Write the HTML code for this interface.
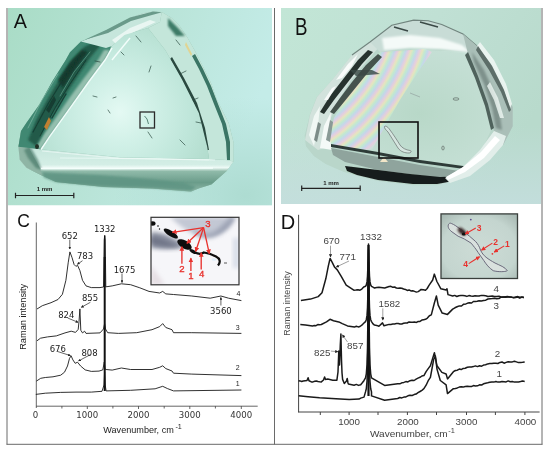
<!DOCTYPE html>
<html><head><meta charset="utf-8">
<style>
html,body{margin:0;padding:0;background:#fff;}
body{width:550px;height:457px;overflow:hidden;position:relative;}
svg{position:absolute;left:0;top:0;display:block;}
svg{font-family:"Liberation Sans",sans-serif;}
</style></head>
<body>
<svg width="550" height="457" viewBox="0 0 550 457">
<defs>
<marker id="ah" viewBox="0 0 6 6" refX="5" refY="3" markerWidth="4" markerHeight="4" orient="auto"><path d="M0,0 L6,3 L0,6 z" fill="#222"/></marker>
<marker id="ahr" viewBox="0 0 6 6" refX="5" refY="3" markerWidth="4.5" markerHeight="4.5" orient="auto"><path d="M0,0 L6,3 L0,6 z" fill="#e8322e"/></marker>
</defs>

<!-- PHOTOS placeholder -->
<g id="photoA">
<defs>
<clipPath id="clipA"><rect x="8" y="8" width="264" height="197.5"/></clipPath>
<linearGradient id="bgA" x1="0" y1="0" x2="1" y2="0.3">
<stop offset="0" stop-color="#a9dcc6"/>
<stop offset="0.55" stop-color="#b9e4d8"/>
<stop offset="1" stop-color="#c4ece8"/>
</linearGradient>
<radialGradient id="bgA2" cx="0.9" cy="0.95" r="0.5">
<stop offset="0" stop-color="#a8d8cc" stop-opacity="0.8"/>
<stop offset="1" stop-color="#a8d8cc" stop-opacity="0"/>
</radialGradient>
<radialGradient id="tableA" cx="120" cy="112" r="100" gradientUnits="userSpaceOnUse">
<stop offset="0" stop-color="#e4f9f3"/>
<stop offset="0.3" stop-color="#d2f1e8"/>
<stop offset="0.7" stop-color="#bfe6da"/>
<stop offset="1" stop-color="#b2dccd"/>
</radialGradient>
<linearGradient id="botA" x1="0" y1="0" x2="0" y2="1">
<stop offset="0" stop-color="#c6e6dc"/>
<stop offset="0.4" stop-color="#d4eee6"/>
<stop offset="0.47" stop-color="#eefaf6"/>
<stop offset="0.55" stop-color="#8fbaa9"/>
<stop offset="0.8" stop-color="#6a9c8a"/>
<stop offset="1" stop-color="#8fb8a8"/>
</linearGradient>
<filter id="blurA1" x="-10%" y="-10%" width="120%" height="120%"><feGaussianBlur stdDeviation="1.3"/></filter>
<filter id="blurA2" x="-10%" y="-10%" width="120%" height="120%"><feGaussianBlur stdDeviation="0.6"/></filter>
<filter id="blurA3" x="-20%" y="-20%" width="140%" height="140%"><feGaussianBlur stdDeviation="2.5"/></filter>
</defs>
<g clip-path="url(#clipA)">
<rect x="8" y="8" width="264" height="197.5" fill="url(#bgA)"/>
<rect x="8" y="8" width="264" height="197.5" fill="url(#bgA2)"/>
<g filter="url(#blurA2)">
<!-- outline base -->
<path d="M18.4,146.7 L21,131 L26.3,123 L39.4,104.6 L52.5,81 L65.7,60 L70,52.3 L80.9,41.4 L93.6,36.8 L106.4,30.5 L119,23.2 L130,17.7 L142.7,13.2 L153.6,11.4 L161.8,12 L171.7,17.9 L179.5,25.8 L187.4,37.6 L195.3,51.4 L203.2,67.1 L211,82.9 L217,100 L228.8,123.2 L233.6,142.4 L233.6,161.6 L226.4,171.2 L211.4,184.5 L200,188 L191,191.5 L152,188.5 L104,187 L56,182 L42,175.5 L26.3,167.7 L19.7,159.8 Z" fill="#8cbcaa"/>
<!-- bottom band -->
<path d="M18.4,146.7 L40.7,149.3 L120,157.2 L209,159 L226,160 L233.6,161.6 L226.4,171.2 L211.4,184.5 L200,188 L191,191.5 L152,188.5 L104,187 L56,182 L42,175.5 L26.3,167.7 L19.7,159.8 Z" fill="url(#botA)"/>
<!-- bottom-left corner facet -->
<path d="M18.4,146.7 L21,131 L26,128 L30,150 L40,168 L42,175.5 L26.3,167.7 L19.7,159.8 Z" fill="#8fb5a5"/>
<path d="M42,172 L70,173.5 L100,175 L150,179 L185,183 L196,187 L191,191 L152,188 L104,186.5 L56,182 L44,177.5 Z" fill="#5f9483" opacity="0.85" filter="url(#blurA1)"/>
<path d="M24,150 L30,146 L38,160 L42,170 L36,168 L28,158 Z" fill="#4a7a6a" opacity="0.7" filter="url(#blurA1)"/>
<!-- left band -->
<path d="M18.4,146.7 L21,131 L26.3,123 L39.4,104.6 L52.5,81 L65.7,60 L70,52.3 L80.9,41.4 L93.6,36.8 L106.4,30.5 L112,40 L110,50 L105,60 L89.3,81 L76.2,99.4 L63,117.8 L49.9,136.2 L40.7,149.3 L30,148 Z" fill="#3f8872"/>
<path d="M40.7,149.3 L49.9,136.2 L63,117.8 L76.2,99.4 L89.3,81 L105,60 L110,50 L104,50 L98,60 L84,78 L70,97 L57,116 L44,134 L36,147 Z" fill="#94bfae" filter="url(#blurA1)"/>
<path d="M28,140 L36,120 L48,98 L60,78 L72,60 L84,47 L98,40 L100,46 L90,58 L78,76 L66,94 L54,113 L44,131 L36,146 Z" fill="#235a48" filter="url(#blurA1)"/>
<path d="M58,80 L70,62 L82,50 L88,52 L76,68 L63,88 Z" fill="#123a2e" filter="url(#blurA1)"/>
<path d="M46,110 L54,96 L56,100 L49,113 Z" fill="#163c30" filter="url(#blurA2)"/>
<g stroke-linecap="round" fill="none" filter="url(#blurA2)">
<path d="M33,132 L48,104 L64,78 L80,56" stroke="#123a2e" stroke-width="1.2" opacity="0.8"/>
<path d="M40,136 L55,108 L70,84 L86,60" stroke="#0e3026" stroke-width="1" opacity="0.7"/>
<path d="M28,128 L42,100 L58,74" stroke="#7fb5a2" stroke-width="0.9" opacity="0.8"/>
<path d="M60,96 L74,72 L90,52" stroke="#6aa592" stroke-width="0.8" opacity="0.8"/>
<path d="M52,118 L66,94" stroke="#10322a" stroke-width="1.4" opacity="0.8"/>
</g>
<path d="M44,127 L49,117 L51,121 L47,130 Z" fill="#c08030"/>
<ellipse cx="37" cy="146.5" rx="2" ry="2.5" fill="#203028"/>
<!-- top band -->
<path d="M80.9,41.4 L93.6,36.8 L106.4,30.5 L119,23.2 L130,17.7 L142.7,13.2 L153.6,11.4 L161.8,12 L160,22 L148,28 L124.5,35 L112,46 L106,48 Z" fill="#c6e6dc"/>
<path d="M84,40 L106,30 L130,17.5 L153,11.6 L162,12.2 L152,15 L131,21 L108,33 Z" fill="#6a9a8a" filter="url(#blurA2)"/>
<path d="M112,40 L130,28 L150,20 L156,22 L134,32 L116,44 Z" fill="#f2fbf8" opacity="0.8" filter="url(#blurA2)"/>
<!-- right band -->
<path d="M161.8,12 L171.7,17.9 L179.5,25.8 L187.4,37.6 L195.3,51.4 L203.2,67.1 L211,82.9 L217,100 L228.8,123.2 L233.6,142.4 L233.6,161.6 L226,160 L209,159 L207.2,146.7 L198.8,113 L182,79.4 L165.2,50 L148,28 L160,22 Z" fill="#c4e6da"/>
<path d="M168,18 L178,28 L185,36 L176,36 L168,26 Z" fill="#3c7a66" filter="url(#blurA1)"/>
<path d="M195,54 L203,69 L211,86 L218,104 L226,124 L230,142 L230,160 L227,160 L226,142 L222,124 L214,104 L207,86 L199,69 L192,56 Z" fill="#3a7565" filter="url(#blurA2)"/>
<path d="M172,57 L184,78 L197,103 L205,128 L209,150 L206,150 L202,128 L194,104 L181,79 L170,59 Z" fill="#2c4a40" filter="url(#blurA2)"/>
<path d="M186,42 L192,54 L191,56 L185,45 Z" fill="#e8d080" opacity="0.8"/>
<!-- table -->
<path d="M112,46 L124.5,35 L148,28 L165.2,50 L182,79.4 L198.8,113 L207.2,146.7 L209,159 L120,157.2 L40.7,149.3 L49.9,136.2 L63,117.8 L76.2,99.4 L89.3,81 L105,60 Z" fill="url(#tableA)"/>
</g>
<!-- bright edge highlights -->
<g stroke="#f6fffd" stroke-width="1.4" fill="none" opacity="0.95" filter="url(#blurA2)">
<path d="M41,149.5 L49.9,136.2 L63,117.8 L76.2,99.4 L89.3,81 L105,60 L112,48"/>
<path d="M41,168.5 L120,168.6 L213,168"/>
<path d="M60,158 L140,158.5 L215,160" stroke-width="0.9" opacity="0.7"/>
<path d="M112,60 L130,38"/>
</g>
<g stroke="#eefaf6" stroke-width="0.9" fill="none" opacity="0.8">
<path d="M42,151 L120,158.5 L209,160"/>
</g>
<!-- inclusions -->
<g stroke="#2a4a40" stroke-width="0.9" stroke-linecap="round" opacity="0.75">
<line x1="121" y1="52" x2="124" y2="55"/>
<line x1="151" y1="66" x2="149" y2="72"/>
<line x1="93" y1="96" x2="97" y2="97"/>
<line x1="113" y1="98" x2="116" y2="97"/>
<line x1="108" y1="110" x2="110" y2="113"/>
<line x1="180" y1="74" x2="186" y2="71"/>
<line x1="193" y1="100" x2="198" y2="98"/>
<line x1="196" y1="122" x2="201" y2="123"/>
<line x1="148" y1="132" x2="152" y2="138"/>
<line x1="180" y1="140" x2="185" y2="145"/>
<line x1="136" y1="36" x2="141" y2="42"/>
<line x1="176" y1="40" x2="180" y2="45"/>
<line x1="95" y1="61" x2="100" y2="62"/>
</g>
<!-- box -->
<rect x="140" y="112" width="14.5" height="16" fill="none" stroke="#2a2a2a" stroke-width="1.3"/>
<path d="M144.5,116 L147,119 L148.5,124" stroke="#3a6a5a" stroke-width="0.8" fill="none"/>
<!-- scale bar -->
<g stroke="#222" stroke-width="1.2">
<line x1="15.5" y1="195.5" x2="73.8" y2="195.5"/>
<line x1="15.5" y1="192.8" x2="15.5" y2="198.2"/>
<line x1="73.8" y1="192.8" x2="73.8" y2="198.2"/>
</g>
<text x="44.5" y="191.2" font-size="6" font-weight="bold" fill="#222" text-anchor="middle">1 mm</text>
<text x="20.4" y="27.9" font-size="19.8" fill="#111" text-anchor="middle">A</text>
</g>
</g>

<g id="photoB">
<defs>
<clipPath id="clipB"><rect x="281" y="8" width="260" height="196"/></clipPath>
<linearGradient id="bgB" x1="0" y1="0" x2="1" y2="0.5">
<stop offset="0" stop-color="#c2e6d6"/>
<stop offset="0.5" stop-color="#c0e0d4"/>
<stop offset="1" stop-color="#b8dacc"/>
</linearGradient>
<linearGradient id="bgB2" x1="0" y1="0" x2="0" y2="1">
<stop offset="0.6" stop-color="#c4dedd" stop-opacity="0"/>
<stop offset="1" stop-color="#c4dedd" stop-opacity="0.9"/>
</linearGradient>
<radialGradient id="tableB" cx="0.55" cy="0.55" r="0.6">
<stop offset="0" stop-color="#b8d8c8"/>
<stop offset="1" stop-color="#c6e0d6"/>
</radialGradient>
<radialGradient id="rainbowB" cx="226" cy="-12.5" r="220" gradientUnits="userSpaceOnUse">
<stop offset="0.74" stop-color="#e6f0ec" stop-opacity="0"/>
<stop offset="0.7364" stop-color="#f0c8e2" stop-opacity="0.75"/>
<stop offset="0.7482" stop-color="#f2e6b8" stop-opacity="0.75"/>
<stop offset="0.7600" stop-color="#c0ecd0" stop-opacity="0.75"/>
<stop offset="0.7718" stop-color="#c4d4f2" stop-opacity="0.75"/>
<stop offset="0.7836" stop-color="#f0c8e2" stop-opacity="0.75"/>
<stop offset="0.7955" stop-color="#f2e6b8" stop-opacity="0.75"/>
<stop offset="0.8073" stop-color="#c0ecd0" stop-opacity="0.75"/>
<stop offset="0.8191" stop-color="#c4d4f2" stop-opacity="0.75"/>
<stop offset="0.8309" stop-color="#f0c8e2" stop-opacity="0.75"/>
<stop offset="0.8427" stop-color="#f2e6b8" stop-opacity="0.75"/>
<stop offset="0.8545" stop-color="#c0ecd0" stop-opacity="0.75"/>
<stop offset="0.8664" stop-color="#c4d4f2" stop-opacity="0.75"/>
<stop offset="0.8782" stop-color="#f0c8e2" stop-opacity="0.75"/>
<stop offset="0.8900" stop-color="#f2e6b8" stop-opacity="0.75"/>
<stop offset="0.9018" stop-color="#c0ecd0" stop-opacity="0.75"/>
<stop offset="0.9136" stop-color="#c4d4f2" stop-opacity="0.75"/>
<stop offset="0.9255" stop-color="#f0c8e2" stop-opacity="0.75"/>
<stop offset="0.9373" stop-color="#f2e6b8" stop-opacity="0.75"/>
<stop offset="0.9491" stop-color="#c0ecd0" stop-opacity="0.75"/>
<stop offset="0.9609" stop-color="#c4d4f2" stop-opacity="0.75"/>
<stop offset="0.9727" stop-color="#f0c8e2" stop-opacity="0.75"/>
<stop offset="0.995" stop-color="#e6f0ec" stop-opacity="0"/>
</radialGradient>
<clipPath id="rainClip"><path d="M328,146 L334,118 L348,94 L366,68 L380,52 L425,49 L432,52 L418,72 L400,100 L384,128 L372,150 Z"/></clipPath>
<filter id="blurB1" x="-10%" y="-10%" width="120%" height="120%"><feGaussianBlur stdDeviation="1.2"/></filter>
<filter id="blurB2" x="-10%" y="-10%" width="120%" height="120%"><feGaussianBlur stdDeviation="0.6"/></filter>
<filter id="blurB3" x="-20%" y="-20%" width="140%" height="140%"><feGaussianBlur stdDeviation="3"/></filter>
</defs>
<g clip-path="url(#clipB)">
<rect x="281" y="8" width="260" height="196" fill="url(#bgB)"/>
<rect x="281" y="8" width="260" height="196" fill="url(#bgB2)"/>
<g filter="url(#blurB2)">
<!-- outer body -->
<path d="M304.6,135.7 L309.8,114.7 L316.7,97 L333,78.9 L351.9,55.3 L370,41.8 L391.8,25.2 L413.6,20.1 L428.2,20.8 L441.8,24.5 L463,34 L479.6,48.2 L493.8,67.1 L505.6,88.4 L512.7,107.3 L512.7,126.2 L503.2,145.1 L484.3,164 L460.7,178.2 L437,185.3 L413.4,185.3 L378,181 L357.1,175.8 L343.3,171.8 L325.6,164 L313.8,156.1 L305.9,146.2 Z" fill="#b9d6ca"/>
<!-- table -->
<path d="M330,144 L334,118 L348,96 L364,74 L378,54 L420,50 L468,52 L478,78 L488,106 L492,128 L482,150 L470,166 L440,163 L400,156 L378,153 L350,148 Z" fill="url(#tableB)"/>
</g>
<!-- rainbow -->
<g clip-path="url(#rainClip)"><rect x="320" y="30" width="140" height="130" fill="url(#rainbowB)" filter="url(#blurB2)"/></g>
<g filter="url(#blurB2)">
<!-- left band: light base -->
<path d="M305,140 L310,115 L317,97 L333,79 L352,55 L370,42 L380,46 L366,62 L350,82 L336,104 L328,126 L330,146 L318,150 Z" fill="#d2e2dc"/>
<!-- white/gray streaks in left corner -->
<path d="M309,135 L314,116 L320,106 L318,126 L314,146 Z" fill="#f0f7f4"/>
<path d="M320,148 L324,126 L331,112 L329,134 L332,150 Z" fill="#f4f9f7"/>
<path d="M314,140 L318,122 L321,124 L317,142 Z" fill="#7c8c88"/>
<path d="M326,140 L330,120 L333,122 L330,142 Z" fill="#8a9a96"/>
<!-- dark streaks -->
<path d="M320,112 L330,96 L344,78 L358,60 L368,50 L373,52 L362,64 L348,82 L334,100 L324,114 Z" fill="#26332f"/>
<path d="M330,112 L340,98 L352,82 L366,65 L378,54 L382,57 L370,70 L357,86 L344,102 L334,114 Z" fill="#45524e"/>
<path d="M336,80 L348,64 L358,54 L352,66 L342,78 Z" fill="#ffffff" opacity="0.85"/>
<path d="M324,100 L332,88 L336,86 L328,100 Z" fill="#ffffff" opacity="0.8"/>
<path d="M350,70 L372,70 L380,74 L356,76 Z" fill="#3a4844" opacity="0.8"/>
<!-- top band -->
<path d="M370,42 L391.8,25.2 L413.6,20.1 L428.2,20.8 L441.8,24.5 L463,34 L475,46 L470,53 L440,48 L410,47 L380,52 Z" fill="#c8dcd6"/>
<path d="M382,38 L410,35 L440,38 L462,45 L470,52 L440,49 L410,48 L384,50 Z" fill="#f4faf8" filter="url(#blurB1)"/>
<path d="M352,55 L370,42 L391.8,25.2 L413.6,20.1 L428.2,20.8 L441.8,24.5 L463,34 L479.6,48.2" stroke="#5d6e69" stroke-width="1.1" fill="none" opacity="0.8"/>
<path d="M394,27 L408,31 M420,22 L438,27" stroke="#3a4a46" stroke-width="1.6" fill="none"/>
<!-- right band -->
<path d="M463,34 L479.6,48.2 L493.8,67.1 L505.6,88.4 L512.7,107.3 L512.7,126.2 L503.2,145.1 L494,131 L488,105 L478,76 L468,54 Z" fill="#aabfb8"/>
<path d="M472,52 L484,70 L494,92 L500,115 L502,130 L496,128 L492,108 L484,84 L474,62 Z" fill="#7e918b" filter="url(#blurB1)"/>
<path d="M480,42 L494,60 L506,84 L512,104 L510,108 L503,88 L491,64 L477,46 Z" fill="#eef6f3" opacity="0.9"/>
<path d="M468,52 L478,76 L488,104 L494,128 L491,130 L485,106 L475,78 L465,55 Z" fill="#4f625c"/>
<path d="M478,46 L492,66 L504,90 L511,110 L509,112 L501,92 L489,70 L476,50 Z" fill="#5d6e69"/>
<path d="M490,82 L498,98 L504,118 L500,118 L494,100 L487,86 Z" fill="#eef6f3" opacity="0.8"/>
<!-- bottom band -->
<path d="M331,144 L378,152 L420,160 L470,167 L472,170 L420,163 L378,155 L331,147 Z" fill="#2e3a37"/>
<path d="M331,148 L378,157 L420,165 L466,172 L440,178 L378,170 L345,162 L333,155 Z" fill="#8fa49d"/>
<path d="M345,166 L378,170 L410,174 L440,177 L466,176 L448,182 L437,184 L413,184 L378,180 L357,175 L347,171 Z" fill="#161b1a"/>
<path d="M380,162 L384,157 L388,162 Z" fill="#f2e6c8"/>
<!-- bottom right highlight -->
<path d="M506,136 L494,131 L480,150 L462,168 L445,178 L450,183 L470,176 L490,160 L503,145 Z" fill="#e2eeea"/>
<path d="M500,140 L484,158 L465,172 L448,180 L446,177 L463,167 L481,152 L495,136 Z" fill="#ffffff"/>
</g>
<!-- inclusions -->
<g stroke="#6a7670" stroke-width="0.8" fill="none">
<ellipse cx="456" cy="99" rx="3" ry="1.2"/>
<ellipse cx="443" cy="148" rx="1.2" ry="2"/>
<path d="M410,93 L420,97" stroke="#98aaa4"/>
</g>
<!-- box -->
<rect x="379" y="122" width="39" height="36" fill="none" stroke="#111" stroke-width="1.6"/>
<path d="M384.5,126.5 C386,125.5 388,127 390,130 C393,134 397,140 400,145 C402,148 406,150 410,150.5 C412,151 411,153 409,153 C405,153 401,152 398,148 C395,143 391,137 388,132 C386,130 384,128 384.5,126.5 Z" fill="#d6e6e0" stroke="#6a7070" stroke-width="0.7"/>
<!-- scale bar -->
<g stroke="#222" stroke-width="1.2">
<line x1="301.7" y1="188.3" x2="360.2" y2="188.3"/>
<line x1="301.7" y1="185.6" x2="301.7" y2="191"/>
<line x1="360.2" y1="185.6" x2="360.2" y2="191"/>
</g>
<text x="331" y="184.8" font-size="6" font-weight="bold" fill="#222" text-anchor="middle">1 mm</text>
<text x="301.3" y="34.9" font-size="23" fill="#111" text-anchor="middle" textLength="12.5" lengthAdjust="spacingAndGlyphs">B</text>
</g>
</g>


<!-- frame -->
<g stroke="#6a6a6a" stroke-width="1" fill="none">
<line x1="7" y1="8" x2="7" y2="444.5"/>
<line x1="274.5" y1="8" x2="274.5" y2="444.5"/>
<line x1="542" y1="8" x2="542" y2="444.5"/>
<line x1="6.5" y1="444.3" x2="542.5" y2="444.3"/>
</g>

<!-- ============ GRAPH C ============ -->
<g id="graphC">
<text x="23.5" y="227.2" font-size="17.5" fill="#111" text-anchor="middle">C</text>
<g stroke="#555" stroke-width="0.9" fill="none">
<line x1="36.3" y1="222.5" x2="36.3" y2="408"/>
<line x1="36" y1="406.2" x2="257.7" y2="406.2"/>
<line x1="61.9" y1="406" x2="61.9" y2="408.5"/>
<line x1="87.3" y1="406" x2="87.3" y2="409"/>
<line x1="112.9" y1="406" x2="112.9" y2="408.5"/>
<line x1="138.5" y1="406" x2="138.5" y2="409"/>
<line x1="164.2" y1="406" x2="164.2" y2="408.5"/>
<line x1="189.8" y1="406" x2="189.8" y2="409"/>
<line x1="215.4" y1="406" x2="215.4" y2="408.5"/>
<line x1="241.3" y1="406" x2="241.3" y2="409"/>
</g>
<g font-size="8.6" fill="#333" text-anchor="middle" style="font-family:'DejaVu Sans',sans-serif">
<text x="35.6" y="417.8">0</text>
<text x="87.3" y="417.8">1000</text>
<text x="138.5" y="417.8">2000</text>
<text x="189.8" y="417.8">3000</text>
<text x="241.3" y="417.8">4000</text>
</g>
<text x="103.3" y="433.1" font-size="9.6" fill="#222" textLength="70.5" lengthAdjust="spacingAndGlyphs">Wavenumber, cm</text><text x="175.4" y="429.2" font-size="7" fill="#222" textLength="6.4" lengthAdjust="spacingAndGlyphs">-1</text>
<text transform="translate(25.6,349.8) rotate(-90)" font-size="9.2" fill="#222" textLength="66" lengthAdjust="spacingAndGlyphs">Raman intensity</text>

<g stroke="#1a1a1a" stroke-width="0.9" fill="none" stroke-linejoin="round">
<path d="M37,309 L42.3,305.7 L51,302.7 L58,299.5 L62.4,294.3 L65.9,280.3 L68.2,262.8 L69.9,251.9 L72,257.5 L74.1,264.5 L75.9,266.3 L77.6,265.4 L79.9,270.6 L82.5,280.3 L86,285.9 L91.3,287.6 L100,287.6 L103.5,287 L104.2,240 L104.7,235.5 L105.2,240 L105.8,287 L106.1,286.8 L112.2,285.9 L121.4,283.8 L130.6,284.7 L139.8,287.8 L149,291.4 L159.7,293 L162.7,291.4 L165.8,293.9 L173.5,294.5 L191.8,296 L210.2,298.2 L220.9,296 L228.6,298.2 L241.4,300.6"/>
<path d="M37,340.8 L40.5,338.2 L47.5,336.9 L56.3,335.9 L65,332.9 L71.2,331.2 L75.5,332.4 L78.2,329.4 L79,321.5 L79.9,308.9 L80.8,330.3 L82.5,332.9 L84.6,331.2 L86,333.4 L100,332.9 L103.5,329 L104.6,323.6 L105.5,329 L107.7,332.7 L118.4,333.4 L136.7,332.7 L152,329.7 L159.7,326.6 L162.7,323.6 L165.8,327.5 L172,329.7 L173.5,332.7 L191.8,332.7 L241.4,333.4"/>
<path d="M36.4,381.1 L40.7,378.3 L45.3,377.5 L53,376.8 L60.7,375.2 L64.5,372.2 L67.5,366 L69.5,358.4 L71.1,355.8 L72.9,359.9 L75.2,363.3 L77.5,362.2 L80.6,366 L85.2,369.9 L91.3,371.4 L99,371.1 L102.8,369.9 L104.3,362 L105,369 L106.1,369.5 L112.2,370.1 L121.4,368 L130.6,369.5 L152,369.5 L159.7,367.3 L162.7,365.8 L165.8,368.6 L172,371 L173.5,373.2 L191.8,374.1 L241.4,375.6"/>
<path d="M35.8,394.4 L45.3,393.2 L60.7,392.4 L76,392.1 L91.3,392.1 L102,391.3 L104,385 L104.6,372 L105.2,385 L106.1,390.9 L130.6,390.3 L155.1,388.8 L162.7,386.3 L167.3,388.5 L173.5,390.9 L241.4,390"/>
</g>
<line x1="104.7" y1="235.5" x2="104.7" y2="258" stroke="#111" stroke-width="1.2"/>
<line x1="104.7" y1="257" x2="104.7" y2="391" stroke="#111" stroke-width="2"/>

<g font-size="8.5" fill="#1a1a1a" text-anchor="middle" style="font-family:'DejaVu Sans',sans-serif">
<text x="69.8" y="238.7">652</text>
<text x="85" y="258.5">783</text>
<text x="104.7" y="232.2">1332</text>
<text x="124.5" y="272.5">1675</text>
<text x="220.9" y="313.7">3560</text>
<text x="90" y="300.8">855</text>
<text x="66.3" y="317.5">824</text>
<text x="57.8" y="351.7">676</text>
<text x="89.5" y="356.1">808</text>
</g>
<g font-size="7" fill="#222" text-anchor="middle">
<text x="238.4" y="295.5">4</text>
<text x="237.7" y="329.7">3</text>
<text x="237.7" y="369.8">2</text>
<text x="237.7" y="386.4">1</text>
</g>
<g stroke="#222" stroke-width="0.7" fill="none" marker-end="url(#ah)">
<line x1="69.8" y1="239.6" x2="69.8" y2="249"/>
<line x1="82.5" y1="260.7" x2="77.4" y2="264.3"/>
<line x1="122" y1="273.5" x2="122" y2="282.5"/>
<line x1="220.9" y1="305.5" x2="220.9" y2="297.5"/>
<line x1="90.4" y1="302.3" x2="81.3" y2="307.3"/>
<line x1="67.7" y1="318" x2="78" y2="322.3"/>
<line x1="57.6" y1="351.5" x2="70.4" y2="355.6"/>
<line x1="90.5" y1="354.6" x2="78.6" y2="360.9"/>
</g>

<!-- inset C -->
<g id="insetC">
<defs>
<clipPath id="clipIC"><rect x="151" y="217.3" width="88" height="67.5"/></clipPath>
<filter id="blurIC" x="-20%" y="-20%" width="140%" height="140%"><feGaussianBlur stdDeviation="2"/></filter>
<filter id="blurIC2" x="-20%" y="-20%" width="140%" height="140%"><feGaussianBlur stdDeviation="0.7"/></filter>
<marker id="ahr2" viewBox="0 0 6 6" refX="5" refY="3" markerWidth="3.6" markerHeight="3.6" orient="auto"><path d="M0,0 L6,3 L0,6 z" fill="#e8322e"/></marker>
</defs>
<rect x="151" y="217.3" width="88" height="67.5" fill="#f6f6f9"/>
<g clip-path="url(#clipIC)">
<!-- gray swirl regions -->
<path d="M151,232 C165,232 178,240 186,246 C178,250 165,250 151,248 Z" fill="#8d93a3" filter="url(#blurIC)"/>
<path d="M151,236 C162,238 172,243 180,247 C170,247 160,246 151,244 Z" fill="#6f7587" filter="url(#blurIC)"/>
<path d="M170,217 L232,217 C232,224 224,232 212,235 C203,237 196,236 190,232 C182,228 176,222 170,217 Z" fill="#c3c8d4" filter="url(#blurIC)"/>
<path d="M192,229 C200,235 210,235 218,229 C224,224 228,220 230,217 L236,217 C233,224 226,233 214,237 C204,240 196,236 192,229 Z" fill="#9aa0b2" filter="url(#blurIC)"/>
<rect x="233" y="238" width="6" height="30" fill="#d8dde8" filter="url(#blurIC)"/>
<path d="M151,265 L151,285 L165,285 C160,278 156,272 151,265 Z" fill="#e6dfe4" filter="url(#blurIC)"/>
<!-- black streak -->
<g filter="url(#blurIC2)" fill="#0a0a0a">
<ellipse cx="152.5" cy="223.5" rx="3" ry="2.2"/>
<circle cx="158" cy="226" r="0.8"/>
<circle cx="159.5" cy="229" r="0.7"/>
<ellipse cx="170.8" cy="233.5" rx="8.3" ry="2.8" transform="rotate(33 170.8 233.5)"/>
<ellipse cx="184.5" cy="244.5" rx="8" ry="4" transform="rotate(30 184.5 244.5)"/>
<ellipse cx="193" cy="251.5" rx="4" ry="1.6" transform="rotate(30 193 251.5)"/>
</g>
<path d="M195,252.5 C198,254 201,254.5 204,252.5 C208,253 212,254.5 216,256.5 C220,258.5 221,262 218,265.5" stroke="#0a0a0a" stroke-width="2.2" fill="none" filter="url(#blurIC2)"/>
<ellipse cx="214" cy="259.5" rx="2.5" ry="1.3" fill="#dfeefa"/>
<line x1="224" y1="263" x2="227" y2="263" stroke="#333" stroke-width="0.8"/>
</g>
<rect x="151" y="217.3" width="88" height="67.5" fill="none" stroke="#333" stroke-width="1.2"/>
<!-- red arrows -->
<g stroke="#e8322e" stroke-width="1.35" fill="none" marker-end="url(#ahr2)">
<line x1="203.6" y1="227.6" x2="172.5" y2="232.3"/>
<line x1="203.6" y1="227.6" x2="187" y2="243.2"/>
<line x1="203.6" y1="227.6" x2="195.7" y2="251.3"/>
<line x1="203.6" y1="227.6" x2="209.3" y2="253.6"/>
<line x1="181.9" y1="263.8" x2="181.9" y2="246.8"/>
<line x1="190.9" y1="271" x2="190.9" y2="258.3"/>
<line x1="201.2" y1="269.5" x2="201.2" y2="252.8"/>
</g>
<g font-size="9.6" fill="#e8322e" text-anchor="middle" stroke="#e8322e" stroke-width="0.35">
<text x="208" y="226.7">3</text>
<text x="181.9" y="272">2</text>
<text x="190.9" y="279">1</text>
<text x="201.6" y="277.3">4</text>
</g>
</g>

</g>

<!-- ============ GRAPH D ============ -->
<g id="graphD">
<text x="288" y="229" font-size="20" fill="#111" text-anchor="middle">D</text>
<g stroke="#444" stroke-width="1" fill="none">
<line x1="298.6" y1="214.8" x2="298.6" y2="412.3"/>
<line x1="298.1" y1="412" x2="539.6" y2="412"/>
<line x1="320.3" y1="412" x2="320.3" y2="415"/>
<line x1="349.1" y1="412" x2="349.1" y2="415"/>
<line x1="378" y1="412" x2="378" y2="415"/>
<line x1="407.4" y1="412" x2="407.4" y2="415"/>
<line x1="436.5" y1="412" x2="436.5" y2="415"/>
<line x1="466.5" y1="412" x2="466.5" y2="415"/>
<line x1="495.4" y1="412" x2="495.4" y2="415"/>
<line x1="524.9" y1="412" x2="524.9" y2="415"/>
</g>
<g font-size="9.8" fill="#444" text-anchor="middle">
<text x="349.1" y="424.6">1000</text>
<text x="407.9" y="424.6">2000</text>
<text x="466.5" y="424.6">3000</text>
<text x="525.4" y="424.6">4000</text>
</g>
<text x="370" y="436.7" font-size="9.6" fill="#404040" textLength="77.6" lengthAdjust="spacingAndGlyphs">Wavenumber, cm</text><text x="448.2" y="432.6" font-size="7" fill="#404040" textLength="6.6" lengthAdjust="spacingAndGlyphs">-1</text>
<text transform="translate(290,335.8) rotate(-90)" font-size="9.4" fill="#4a4a4a" textLength="64.5" lengthAdjust="spacingAndGlyphs">Raman intensity</text>

<g stroke="#1a1a1a" stroke-width="1.5" fill="none" stroke-linejoin="round">
<path d="M300.9,300.4 L310.5,299.1 L318.2,296.6 L322.0,292.8 L325.8,278.8 L328.3,266.1 L330.1,258.4 L332.2,262.3 L334.7,267.3 L337.3,269.9 L341.1,276.2 L346.2,285.2 L353.8,290.2 L355.9,290.0 L357.9,289.7 L360.0,290.2 L361.8,289.1 L363.7,287.0 L365.5,286.3 L366.3,285.0 L367.0,281.9 L367.5,276.4 L367.9,266.0 L368.2,252.8 L368.5,244.0 L368.8,252.8 L369.1,266.0 L369.5,276.4 L370.0,281.9 L370.7,285.0 L371.5,286.3 L373.0,287.2 L374.5,288.0 L376.7,287.5 L378.9,287.3 L384.7,288.0 L389.1,286.5 L390.9,286.3 L392.8,287.3 L394.6,287.0 L396.4,288.0 L398.2,288.2 L400.0,287.9 L401.8,288.2 L403.6,289.0 L405.4,289.4 L407.2,290.4 L409.1,289.9 L410.9,290.9 L412.7,290.7 L414.5,291.4 L416.4,292.1 L418.2,291.6 L419.6,290.6 L421.1,289.4 L423.3,289.7 L425.5,290.2 L427.2,288.5 L429.0,285.4 L432.7,280.0 L434.3,274.1 L436.9,281.5 L440.9,288.8 L446.1,289.9 L447.0,288.8 L448.0,294.6 L452.7,296.0 L454.7,295.4 L456.8,296.5 L458.8,295.7 L460.8,295.5 L462.9,295.5 L464.9,295.7 L466.9,296.4 L468.9,295.6 L471.0,296.1 L473.0,296.2 L475.0,295.8 L477.1,296.1 L479.1,296.0 L481.3,295.4 L483.5,295.5 L485.7,295.8 L487.9,296.5 L490.1,296.2 L492.3,296.1 L494.5,296.5 L496.7,296.4 L498.9,296.2 L501.1,297.0 L503.3,296.9 L505.5,296.7 L507.5,296.5 L509.6,297.0 L511.6,297.1 L513.7,297.7 L515.7,297.6 L517.8,297.1 L519.8,298.2 L521.9,297.1 L523.9,297.8"/>
<path d="M300.3,324.5 L305.5,324.9 L312.5,325.9 L314.3,325.5 L316.0,325.7 L317.8,324.6 L319.5,324.8 L321.3,324.5 L326.5,321.9 L330.0,319.3 L333.5,320.7 L338.8,321.9 L342.3,323.6 L347.5,325.9 L354.5,327.1 L356.3,326.3 L358.2,326.9 L360.0,326.5 L361.8,325.2 L363.7,323.3 L365.5,321.6 L366.3,319.7 L367.0,315.4 L367.5,307.6 L367.9,293.0 L368.2,274.4 L368.5,262.0 L368.8,274.4 L369.1,293.0 L369.5,307.6 L370.0,315.4 L370.7,319.7 L371.5,321.6 L373.0,323.9 L374.5,325.1 L376.7,325.4 L378.9,326.3 L382.5,322.9 L384.0,325.8 L389.1,324.4 L390.9,324.5 L392.8,324.1 L394.6,323.9 L396.4,323.6 L398.2,323.5 L400.0,323.9 L401.8,324.0 L403.6,323.3 L405.4,323.0 L407.2,323.0 L409.1,321.9 L410.9,322.2 L412.7,322.3 L414.5,322.1 L416.4,322.4 L418.2,321.5 L420.0,321.4 L421.9,320.1 L423.7,319.7 L425.5,319.3 L427.4,318.1 L429.4,315.7 L431.3,314.9 L434.3,303.3 L436.4,296.0 L438.2,305.2 L440.2,309.1 L442.2,313.1 L447.5,314.4 L452.7,309.1 L454.9,307.8 L457.1,306.8 L459.3,305.9 L461.5,306.0 L463.7,304.2 L465.9,303.9 L467.8,303.1 L469.7,302.8 L471.6,303.0 L473.4,301.5 L475.3,301.5 L477.2,301.2 L479.1,300.7 L481.3,300.9 L483.5,300.4 L485.7,300.2 L487.9,299.0 L490.1,298.8 L492.3,298.6 L494.5,298.2 L496.7,298.7 L498.9,298.6 L501.1,297.2 L503.3,297.1 L505.5,297.3 L507.5,296.9 L509.6,296.9 L511.6,297.3 L513.7,297.4 L515.7,297.0 L517.8,296.6 L519.8,297.2 L521.9,297.1 L523.9,297.3"/>
<path d="M298.6,380.7 L300.1,380.9 L301.7,381.5 L303.2,381.0 L307.0,380.5 L308.1,377.8 L309.0,380.8 L311.4,381.9 L313.0,381.9 L314.7,381.3 L316.3,381.0 L318.0,381.5 L319.6,381.8 L321.3,381.9 L323.5,380.0 L324.6,377.0 L325.5,379.4 L327.8,379.1 L332.8,380.2 L336.9,380.2 L338.0,372.0 L338.8,351.0 L339.5,365.0 L340.3,345.0 L340.9,334.0 L341.5,360.0 L342.0,372.8 L342.6,379.4 L344.3,383.5 L346.5,381.0 L347.2,378.5 L348.0,383.0 L348.4,384.0 L354.1,385.2 L356.3,384.4 L358.5,385.4 L360.7,384.7 L362.3,382.8 L363.9,380.7 L365.5,377.9 L366.3,373.8 L367.0,364.7 L367.5,347.8 L367.9,316.5 L368.2,276.6 L368.5,250.0 L368.8,276.6 L369.1,316.5 L369.5,347.8 L370.0,364.7 L370.7,373.8 L371.5,377.9 L384.6,385.4 L397.7,383.8 L399.8,383.8 L401.8,382.8 L403.9,382.4 L405.9,381.6 L407.9,381.9 L410.0,380.7 L412.1,380.3 L414.1,380.5 L416.1,379.1 L418.0,378.1 L420.0,377.3 L421.9,376.0 L423.9,375.6 L426.1,371.6 L428.2,368.6 L430.4,365.8 L434.4,352.7 L437.0,365.8 L441.9,372.4 L446.1,374.0 L447.5,378.9 L453.4,371.7 L455.4,370.5 L457.3,370.2 L459.3,369.1 L461.2,369.6 L463.2,368.4 L465.2,368.2 L467.3,367.3 L469.3,367.1 L471.4,366.9 L473.4,366.6 L475.4,365.9 L477.5,366.6 L479.5,365.8 L481.6,366.2 L483.6,365.1 L485.6,364.8 L487.7,363.9 L489.8,363.6 L491.8,363.6 L493.8,363.2 L495.9,363.2 L497.9,363.5 L500.0,362.4 L502.0,362.0 L504.1,363.2 L506.1,362.4 L508.2,361.7 L510.2,362.1 L512.3,361.9 L514.4,361.2 L516.4,361.9 L518.5,362.6 L520.6,362.4 L522.6,362.2 L524.7,361.9"/>
<path d="M298.6,395.8 L308.1,396.7 L319.6,397.8 L336.0,398.8 L349.2,399.4 L359.0,399.1 L360.7,398.1 L362.3,397.6 L364.0,397.1 L365.5,391.9 L366.3,388.7 L367.0,381.4 L367.5,367.9 L367.9,343.0 L368.2,311.2 L368.5,290.0 L368.8,311.2 L369.1,343.0 L369.5,367.9 L370.0,381.4 L370.7,388.7 L371.5,391.9 L371.5,395.9 L384.6,400.2 L397.7,398.5 L399.8,397.5 L401.8,397.9 L403.9,397.1 L405.9,396.9 L407.9,395.8 L410.0,395.2 L412.1,395.5 L414.1,394.6 L416.1,394.1 L418.0,392.7 L420.0,391.5 L421.9,390.3 L423.9,388.7 L426.1,385.2 L428.2,380.7 L430.4,377.3 L433.7,359.3 L435.4,356.0 L437.0,369.1 L440.3,380.5 L446.1,384.8 L447.5,393.6 L453.4,388.7 L455.4,388.4 L457.3,387.9 L459.3,387.1 L461.2,386.8 L463.2,387.1 L465.2,386.5 L467.3,386.2 L469.3,386.5 L471.4,386.6 L473.4,385.6 L475.4,386.0 L477.5,385.8 L479.5,384.8 L481.6,385.0 L483.6,383.8 L485.6,383.2 L487.7,382.8 L489.8,382.3 L491.8,381.9 L493.8,382.1 L495.9,381.5 L497.9,382.1 L500.0,382.0 L502.0,381.5 L504.1,381.7 L506.1,381.9 L508.2,380.9 L510.2,381.7 L512.3,381.5 L514.4,382.1 L516.4,381.9 L518.5,381.9 L520.6,381.5 L522.6,381.0 L524.7,381.5"/>
</g>
<line x1="368.5" y1="245" x2="368.5" y2="396" stroke="#111" stroke-width="2.2"/>

<g font-size="9.8" fill="#444" text-anchor="middle">
<text x="331.6" y="243.9">670</text>
<text x="347.8" y="260.4">771</text>
<text x="371" y="239.9">1332</text>
<text x="389.4" y="306.7">1582</text>
<text x="355.3" y="349.3">857</text>
<text x="322.3" y="355.9">825</text>
<text x="496.2" y="292.2">4</text>
<text x="496.2" y="309.1">3</text>
<text x="497.5" y="356.8">2</text>
<text x="499.2" y="377.4">1</text>
</g>
<g stroke="#888" stroke-width="0.8" fill="none" marker-end="url(#ah)">
<line x1="330.5" y1="245.7" x2="330.5" y2="257"/>
<line x1="349" y1="261" x2="336.3" y2="267"/>
<line x1="382.8" y1="308.4" x2="382.8" y2="320"/>
<line x1="347.5" y1="342" x2="342.5" y2="335"/>
<line x1="330.9" y1="351.1" x2="337.9" y2="351.7"/>
</g>

<!-- inset D -->
<g id="insetD">
<defs>
<radialGradient id="bgID" cx="0.5" cy="0.55" r="0.7">
<stop offset="0" stop-color="#cddcd6"/>
<stop offset="0.7" stop-color="#c4d5cf"/>
<stop offset="1" stop-color="#a9bab4"/>
</radialGradient>
<filter id="blurID" x="-20%" y="-20%" width="140%" height="140%"><feGaussianBlur stdDeviation="1.2"/></filter>
<filter id="blurID2" x="-20%" y="-20%" width="140%" height="140%"><feGaussianBlur stdDeviation="0.4"/></filter>
<marker id="ahr3" viewBox="0 0 6 6" refX="5" refY="3" markerWidth="4" markerHeight="4" orient="auto"><path d="M0,0 L6,3 L0,6 z" fill="#e8322e"/></marker>
</defs>
<rect x="441" y="213.9" width="76.5" height="64.6" fill="url(#bgID)"/>
<g filter="url(#blurID2)">
<path d="M450.2,223.1 C452,223.6 455,225 458.1,227.5 L464.2,231.9 L469.5,236.2 L475.6,241.5 C478,244 479.5,247 480.5,250 C483,256 488,259 495,263 C500,265.5 505,267 507.3,270.7 C505,272 498,272 493.2,270.7 C489,268 486,264 483.7,260.4 L478.2,252.6 C476,249 473,245.5 471.2,243.2 L464.2,238.9 L458.1,236.2 L452,231.9 C449.5,230 447.5,227.5 448.3,225 C448.7,223.8 449.4,223.2 450.2,223.1 Z" fill="#d9e1de" stroke="#6b6a7c" stroke-width="1"/>
</g>
<ellipse cx="462" cy="231.5" rx="5" ry="2.8" transform="rotate(40 462 231.5)" fill="#3a2a2a" filter="url(#blurID)"/>
<ellipse cx="463.8" cy="234" rx="2" ry="1.5" fill="#111"/>
<circle cx="470.8" cy="219.6" r="0.9" fill="#5a4a8a"/>
<circle cx="492.4" cy="253.8" r="0.9" fill="#e8322e"/>
<rect x="441" y="213.9" width="76.5" height="64.6" fill="none" stroke="#3a3f3c" stroke-width="1.3"/>
<g stroke="#e8322e" stroke-width="1.1" fill="none" marker-end="url(#ahr3)">
<line x1="475.8" y1="228.1" x2="465.2" y2="233.9"/>
<line x1="492.4" y1="243.1" x2="481.6" y2="250"/>
<line x1="504.2" y1="245.9" x2="494.2" y2="252"/>
<line x1="468.7" y1="263.6" x2="479.5" y2="256.8"/>
</g>
<g font-size="8.5" font-weight="bold" fill="#e8322e" text-anchor="middle">
<text x="479.2" y="230.5">3</text>
<text x="495.6" y="244.5">2</text>
<text x="507.4" y="247">1</text>
<text x="465.6" y="267.4">4</text>
</g>
</g>

</g>
</svg>
</body></html>
